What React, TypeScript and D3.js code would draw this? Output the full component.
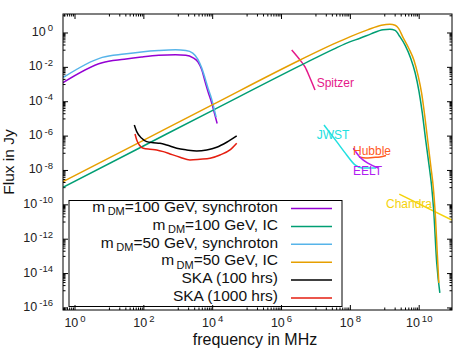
import React from "react";
import * as d3 from "d3";

// All series are [log10(frequency / MHz), log10(flux / Jy)]
type P = [number, number];

const synch100: P[] = [
  [-0.349, -2.89], [0.79, -1.73], [1.43, -1.53], [1.93, -1.4], [2.43, -1.3], [2.92, -1.27],
  [3.22, -1.3], [3.42, -1.43], [3.57, -1.68], [3.68, -2.13], [3.78, -2.84], [3.87, -3.45],
  [3.97, -4.06], [4.05, -4.66], [4.13, -5.27],
];
const synch50: P[] = [
  [-0.349, -2.6], [0.79, -1.42], [1.43, -1.22], [1.93, -1.1], [2.43, -1.02], [2.92, -0.98],
  [3.22, -1.02], [3.42, -1.17], [3.57, -1.53], [3.68, -2.03], [3.78, -2.64], [3.87, -3.25],
  [3.97, -3.85], [4.04, -4.4], [4.1, -4.9],
];
const ic100: P[] = [
  [-0.349, -8.98], [2, -6.56], [4, -4.5], [6.54, -1.9], [7.5, -0.95], [8.0, -0.5], [8.28, -0.31],
  [8.6, -0.05], [8.95, 0.19], [9.15, 0.215], [9.3, 0.15], [9.44, -0.215], [9.6, -0.75], [9.75, -1.45],
  [9.88, -2.3], [9.99, -3.35], [10.09, -4.65], [10.18, -6.1], [10.28, -7.6], [10.36, -8.9],
  [10.42, -10.3], [10.51, -13.4], [10.6, -15.12],
];
const ic50: P[] = [
  [-0.349, -8.65], [2, -6.23], [4, -4.17], [6.54, -1.57], [7.5, -0.65], [8.0, -0.21], [8.5, 0.18],
  [8.9, 0.45], [9.15, 0.51], [9.3, 0.45], [9.4, 0.27], [9.54, -0.3], [9.7, -0.9], [9.85, -1.6],
  [9.97, -2.5], [10.07, -3.5], [10.16, -4.8], [10.25, -6.3], [10.34, -7.8], [10.41, -9.0],
  [10.46, -10.3], [10.53, -13.0], [10.57, -14.54],
];
const ska100: P[] = [
  [1.723, -5.352], [1.793, -5.742], [1.938, -6.126], [2.083, -6.323], [2.275, -6.382], [2.469, -6.417],
  [2.664, -6.516], [2.955, -6.708], [3.245, -6.806], [3.536, -6.865], [3.826, -6.806], [4.117, -6.649],
  [4.407, -6.358], [4.698, -5.992],
];
const ska1000: P[] = [
  [1.743, -5.876], [1.793, -6.224], [1.868, -6.516], [1.984, -6.708], [2.179, -6.766], [2.374, -6.806],
  [2.565, -6.905], [2.76, -7.039], [3.051, -7.231], [3.341, -7.388], [3.632, -7.347], [3.922, -7.289],
  [4.213, -7.097], [4.503, -6.806], [4.698, -6.417],
];
const spitzer: P[] = [[6.296, -0.989], [6.537, -1.571], [6.682, -1.978], [6.827, -2.618], [6.973, -3.316]];
const jwst: P[] = [[7.234, -5.352], [7.603, -6.323], [7.893, -7.097], [8.135, -7.679], [8.338, -7.853], [8.745, -7.853]];
const eelt: P[] = [[8.085, -6.708], [8.28, -7.231], [8.521, -7.592], [8.803, -7.853]];
const hubble: P[] = [[8.251, -7.213], [8.454, -7.272], [8.657, -7.242], [8.861, -7.213], [9.036, -7.126]];
const chandra: P[] = [[9.42, -9.38], [10.95, -10.88]];

const instrumentNames = ["Spitzer", "JWST", "Hubble", "EELT", "Chandra"];
const instrumentLabelAt: P[] = [[7.022, -2.891], [7.022, -5.934], [8.077, -6.893], [8.077, -8.028], [9.035, -9.965]];

const legendMass = ["100", "100", "50", "50"];
const legendKind = ["synchroton", "IC", "synchroton", "IC"];
const skaLabels = ["SKA (100 hrs)", "SKA (1000 hrs)"];

const xTickExps = [0, 2, 4, 6, 8, 10];
const yTickExps = [0, -2, -4, -6, -8, -10, -12, -14, -16];

const C = {
  purple: "#9400d3",
  green: "#009e73",
  blue: "#56b4e9",
  orange: "#e69f00",
  black: "#000000",
  red: "#e51e10",
  spitzer: "#e5198a",
  jwst: "#22e0e0",
  hubble: "#ff5a1f",
  eelt: "#b01ef0",
  chandra: "#f5d20a",
};

const L = 63, R = 452, T = 14, B = 310;
const FONT = "'Liberation Sans', Arial, Helvetica, sans-serif";

export default function App() {
  const x = d3.scaleLog().domain([10 ** -0.349, 10 ** 10.953]).range([L, R]);
  const y = d3.scaleLog().domain([10 ** -16.12, 10 ** 1.105]).range([B, T]);
  const line = d3
    .line<P>()
    .x((d) => x(10 ** d[0]))
    .y((d) => y(10 ** d[1]))
    .curve(d3.curveMonotoneX);

  const [xd0, xd1] = x.domain();
  const [yd0, yd1] = y.domain();
  const xMinor: number[] = [];
  for (let e = -1; e <= 11; e += 2)
    for (let k = 1; k <= 9; k++) {
      const v = k * 10 ** e;
      if (v > xd0 && v < xd1) xMinor.push(v);
    }
  const yMinor: number[] = [];
  for (let e = -17; e <= 1; e += 2)
    for (let k = 1; k <= 9; k++) {
      const v = k * 10 ** e;
      if (v > yd0 && v < yd1) yMinor.push(v);
    }

  const series: { d: P[]; c: string }[] = [
    { d: spitzer, c: C.spitzer },
    { d: jwst, c: C.jwst },
    { d: hubble, c: C.hubble },
    { d: eelt, c: C.eelt },
    { d: chandra, c: C.chandra },
    { d: synch100, c: C.purple },
    { d: ic100, c: C.green },
    { d: synch50, c: C.blue },
    { d: ic50, c: C.orange },
    { d: ska100, c: C.black },
    { d: ska1000, c: C.red },
  ];
  const instColors = [C.spitzer, C.jwst, C.hubble, C.eelt, C.chandra];
  const legendColors = [C.purple, C.green, C.blue, C.orange, C.black, C.red];

  const maj = 5, mnr = 2.5;

  return (
    <svg width={474} height={355} style={{ display: "block", position: "absolute", left: 0, top: 0 }} fontFamily={FONT}>
      <rect width={474} height={355} fill="#fff" />
      <defs>
        <clipPath id="plotclip">
          <rect x={L} y={T} width={R - L} height={B - T} />
        </clipPath>
      </defs>

      {/* ticks */}
      <g stroke="#000" strokeWidth={1}>
        {xTickExps.map((e) => {
          const px = x(10 ** e);
          return (
            <g key={"xt" + e}>
              <line x1={px} x2={px} y1={B} y2={B - maj} />
              <line x1={px} x2={px} y1={T} y2={T + maj} />
            </g>
          );
        })}
        {xMinor.map((v, i) => {
          const px = x(v);
          return (
            <g key={"xm" + i}>
              <line x1={px} x2={px} y1={B} y2={B - mnr} />
              <line x1={px} x2={px} y1={T} y2={T + mnr} />
            </g>
          );
        })}
        {yTickExps.map((e) => {
          const py = y(10 ** e);
          return (
            <g key={"yt" + e}>
              <line x1={L} x2={L + maj} y1={py} y2={py} />
              <line x1={R} x2={R - maj} y1={py} y2={py} />
            </g>
          );
        })}
        {yMinor.map((v, i) => {
          const py = y(v);
          return (
            <g key={"ym" + i}>
              <line x1={L} x2={L + mnr} y1={py} y2={py} />
              <line x1={R} x2={R - mnr} y1={py} y2={py} />
            </g>
          );
        })}
      </g>

      {/* curves */}
      <g clipPath="url(#plotclip)" fill="none" strokeWidth={1.5}>
        {series.map((s, i) => (
          <path key={i} d={line(s.d) || ""} stroke={s.c} />
        ))}
      </g>

      {/* instrument labels */}
      {instrumentNames.map((n, i) => (
        <text
          key={n}
          x={x(10 ** instrumentLabelAt[i][0])}
          y={y(10 ** instrumentLabelAt[i][1])}
          dominantBaseline="central"
          fontSize={12}
          fill={instColors[i]}
        >
          {n}
        </text>
      ))}

      {/* frame */}
      <rect x={L} y={T} width={R - L} height={B - T} fill="none" stroke="#000" strokeWidth={1} />

      {/* tick labels */}
      <g fontSize={12.5} fill="#222">
        {yTickExps.map((e) => (
          <text key={"yl" + e} x={53} y={y(10 ** e) + 3} textAnchor="end">
            10
            <tspan dx={2} dy={-4.5} fontSize={9.5}>
              {String(e)}
            </tspan>
          </text>
        ))}
        {xTickExps.map((e) => (
          <text key={"xl" + e} x={x(10 ** e)} y={326.5} textAnchor="middle">
            10
            <tspan dx={2} dy={-4.5} fontSize={9.5}>
              {String(e)}
            </tspan>
          </text>
        ))}
      </g>

      {/* axis titles */}
      <text x={255} y={345} textAnchor="middle" fontSize={16} fill="#111">
        frequency in MHz
      </text>
      <text transform="translate(14,162) rotate(-90)" textAnchor="middle" fontSize={15.5} fill="#111">
        Flux in Jy
      </text>

      {/* legend */}
      <rect x={69} y={200.5} width={273} height={106} fill="none" stroke="#000" strokeWidth={1} />
      <g fontSize={15.5} fill="#111">
        {legendColors.map((c, i) => {
          const by = 211.7 + 17.9 * i;
          return (
            <g key={"lg" + i}>
              {i < 4 ? (
                <text x={278} y={by} textAnchor="end">
                  m
                  <tspan dx={2.5} dy={3.4} fontSize={11}>
                    DM
                  </tspan>
                  <tspan dy={-3.4} fontSize={15.5}>
                    {"=" + legendMass[i] + " GeV, " + legendKind[i]}
                  </tspan>
                </text>
              ) : (
                <text x={278} y={by} textAnchor="end">
                  {skaLabels[i - 4]}
                </text>
              )}
              <line x1={291} x2={332} y1={by - 3.2} y2={by - 3.2} stroke={c} strokeWidth={1.5} />
            </g>
          );
        })}
      </g>
    </svg>
  );
}
